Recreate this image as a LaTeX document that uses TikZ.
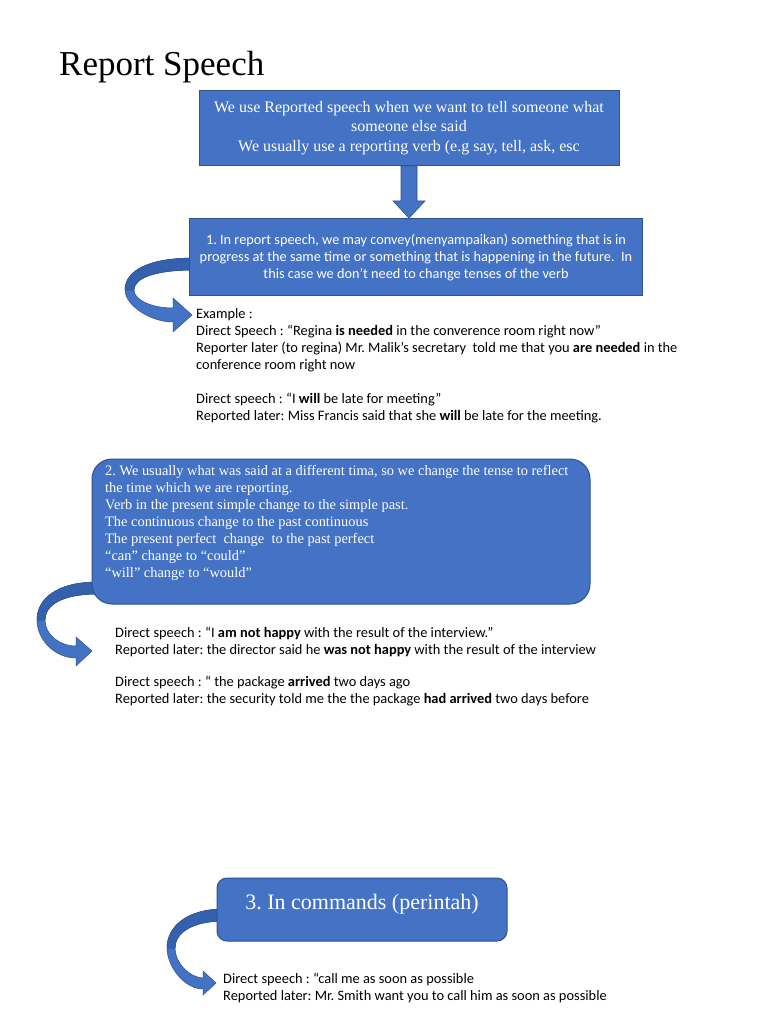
\documentclass[tikz,border=0pt]{standalone}
\usepackage{fontspec}
\setmainfont{Liberation Serif}
\newfontfamily\carlito{Carlito}
\usetikzlibrary{calc}
\definecolor{boxblue}{HTML}{4472C4}
\definecolor{boxline}{HTML}{2F528F}
\definecolor{darkblue}{HTML}{3461AE}
\frenchspacing
\begin{document}
\begin{tikzpicture}[x=1pt,y=-1pt,
  bluebox/.style={draw=boxline,fill=boxblue,line width=1pt,text=white,inner sep=0pt},
  body/.style={font=\carlito\fontsize{14.4}{17}\selectfont,align=left,anchor=north west,inner sep=0pt,text=black},
  curved/.style={fill=boxblue,draw=boxline,line width=0.5pt},
  curvedtop/.style={fill=darkblue,draw=boxline,line width=0.5pt}]
\useasboundingbox (0,0) rectangle (768,1024);
\fill[white] (0,0) rectangle (768,1024);

% title
\node[font=\fontsize{35}{40}\selectfont, anchor=base west, inner sep=0pt] (title) at (59,76) {Report Speech};

% curved arrows (behind boxes)
\path[curved] (194,258) .. controls (150,258) and (125,270) .. (125,290)
  .. controls (125,305) and (150,322) .. (173,322) -- (173,332) -- (192,315) -- (173,298) -- (173,308)
  .. controls (152,308) and (134,300) .. (134,290)
  .. controls (134,278) and (155,270) .. (194,270) -- cycle;
\path[curvedtop] (194,258) .. controls (150,258) and (125,270) .. (125,290) -- (134,290)
  .. controls (134,278) and (155,270) .. (194,270) -- cycle;

\path[curved] (98,582) .. controls (55,582) and (37,600) .. (37,620)
  .. controls (37,640) and (55,658) .. (76,658) -- (76,666) -- (92,651) -- (76,637) -- (76,646)
  .. controls (60,646) and (45,635) .. (45,620)
  .. controls (45,605) and (62,594) .. (98,594) -- cycle;
\path[curvedtop] (98,582) .. controls (55,582) and (37,600) .. (37,620) -- (45,620)
  .. controls (45,605) and (62,594) .. (98,594) -- cycle;

\path[curved] (224,909) .. controls (185,909) and (167,928) .. (167,948)
  .. controls (167,966) and (184,989) .. (203,989) -- (203,995) -- (216,983) -- (203,971) -- (203,978)
  .. controls (188,977) and (175,962) .. (175,948)
  .. controls (175,933) and (192,921) .. (224,921) -- cycle;
\path[curvedtop] (224,909) .. controls (185,909) and (167,928) .. (167,948) -- (175,948)
  .. controls (175,933) and (192,921) .. (224,921) -- cycle;

% box 1
\node[bluebox, minimum width=420pt, minimum height=75pt, align=center,
      font=\fontsize{16}{19.5}\selectfont] (b1) at (409,128)
  {We use Reported speech when we want to tell someone what\\
   someone else said\\
   We usually use a reporting verb (e.g say, tell, ask, esc};

% box 2
\node[bluebox, minimum width=453pt, minimum height=77pt, align=center,
      font=\carlito\fontsize{14.3}{17}\selectfont] (b2) at (416,257)
  {1. In report speech, we may convey(menyampaikan) something that is in\\
   progress at the same time or something that is happening in the future.\ \ In\\
   this case we don’t need to change tenses of the verb};

% down block arrow
\draw[boxline, fill=boxblue, line width=0.6pt]
  ($(b1.south)+(-8,0)$) -- ($(b1.south)+(8,0)$) -- ($(b1.south |- b2.north)+(8,-17)$)
  -- ($(b1.south |- b2.north)+(16,-17)$) -- (b1.south |- b2.north)
  -- ($(b1.south |- b2.north)+(-16,-17)$) -- ($(b1.south |- b2.north)+(-8,-17)$) -- cycle;

% example block 1
\node[body] (ex1) at (196,308.5)
  {Example :\\
   Direct Speech : “Regina \textbf{is needed} in the converence room right now”\\
   Reporter later (to regina) Mr. Malik’s secretary\ \ told me that you \textbf{are needed} in the\\
   conference room right now\\[17pt]
   Direct speech : “I \textbf{will} be late for meeting”\\
   Reported later: Miss Francis said that she \textbf{will} be late for the meeting.};

% box 3
\node[bluebox, rounded corners=20pt, minimum width=498pt, minimum height=145pt] (b3) at (341,531.5) {};
\node[anchor=north west, inner sep=0pt, align=left, text=white,
      font=\fontsize{14.4}{17}\selectfont] (t3) at (105,465)
  {2. We usually what was said at a different tima, so we change the tense to reflect\\
   the time which we are reporting.\\
   Verb in the present simple change to the simple past.\\
   The continuous change to the past continuous\\
   The present perfect\ \ change\ \ to the past perfect\\
   “can” change to “could”\\
   “will” change to “would”};

% example block 2
\node[body] (ex2) at (115,626.5)
  {Direct speech : “I \textbf{am not happy} with the result of the interview.”\\
   Reported later: the director said he \textbf{was not happy} with the result of the interview\\[15pt]
   Direct speech : “ the package \textbf{arrived} two days ago\\
   Reported later: the security told me the the package \textbf{had arrived} two days before};

% box 4
\node[bluebox, rounded corners=10pt, minimum width=290pt, minimum height=63pt,
      font=\fontsize{22}{26}\selectfont, text height=6pt, text depth=6pt] (b4) at (362,909.5)
  {3. In commands (perintah)};

% example block 3
\node[body] (ex3) at (223,972.5)
  {Direct speech : “call me as soon as possible\\
   Reported later: Mr. Smith want you to call him as soon as possible};
\end{tikzpicture}
\end{document}
